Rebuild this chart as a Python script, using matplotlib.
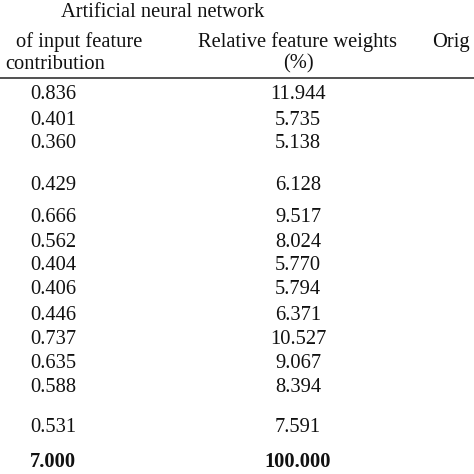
import matplotlib
matplotlib.use("Agg")
import matplotlib.pyplot as plt

title = "Artificial neural network"
header1 = ["of input feature", "contribution"]
header2 = ["Relative feature weights", "(%)"]
header3 = "Orig"
contrib = ["0.836", "0.401", "0.360", "0.429", "0.666", "0.562", "0.404",
           "0.406", "0.446", "0.737", "0.635", "0.588", "0.531"]
weights = ["11.944", "5.735", "5.138", "6.128", "9.517", "8.024", "5.770",
           "5.794", "6.371", "10.527", "9.067", "8.394", "7.591"]
total_contrib = "7.000"
total_weight = "100.000"
row_y = [94, 120, 144, 186, 217, 242, 266, 290, 315, 340, 364, 388, 427]
total_y = 462

plt.rcParams['font.family'] = ['Liberation Serif', 'DejaVu Serif']
fig = plt.figure(figsize=(4.74, 4.74), dpi=100)
ax = fig.add_axes([0, 0, 1, 1])
ax.set_xlim(0, 474)
ax.set_ylim(474, 0)
ax.axis('off')
fs = 14.8
c = '#111111'
ax.text(163, 12, title, ha='center', va='center', fontsize=fs, color=c)
ax.text(142, 42, header1[0], ha='right', va='center', fontsize=fs, color=c)
ax.text(105, 64, header1[1], ha='right', va='center', fontsize=fs, color=c)
ax.text(298, 42, header2[0], ha='center', va='center', fontsize=fs, color=c)
ax.text(298, 64, header2[1], ha='center', va='center', fontsize=fs, color=c)
ax.text(432, 42, header3, ha='left', va='center', fontsize=fs, color=c)
ax.plot([0, 474], [78, 78], color='#333333', lw=1.2)
for cv, wv, y in zip(contrib, weights, row_y):
    ax.text(53, y, cv, ha='center', va='center', fontsize=fs, color=c)
    ax.text(298, y, wv, ha='center', va='center', fontsize=fs, color=c)
ax.text(53, total_y, total_contrib, ha='center', va='center', fontsize=fs, color=c, fontweight='bold')
ax.text(298, total_y, total_weight, ha='center', va='center', fontsize=fs, color=c, fontweight='bold')
fig.savefig("out.png", dpi=100)
